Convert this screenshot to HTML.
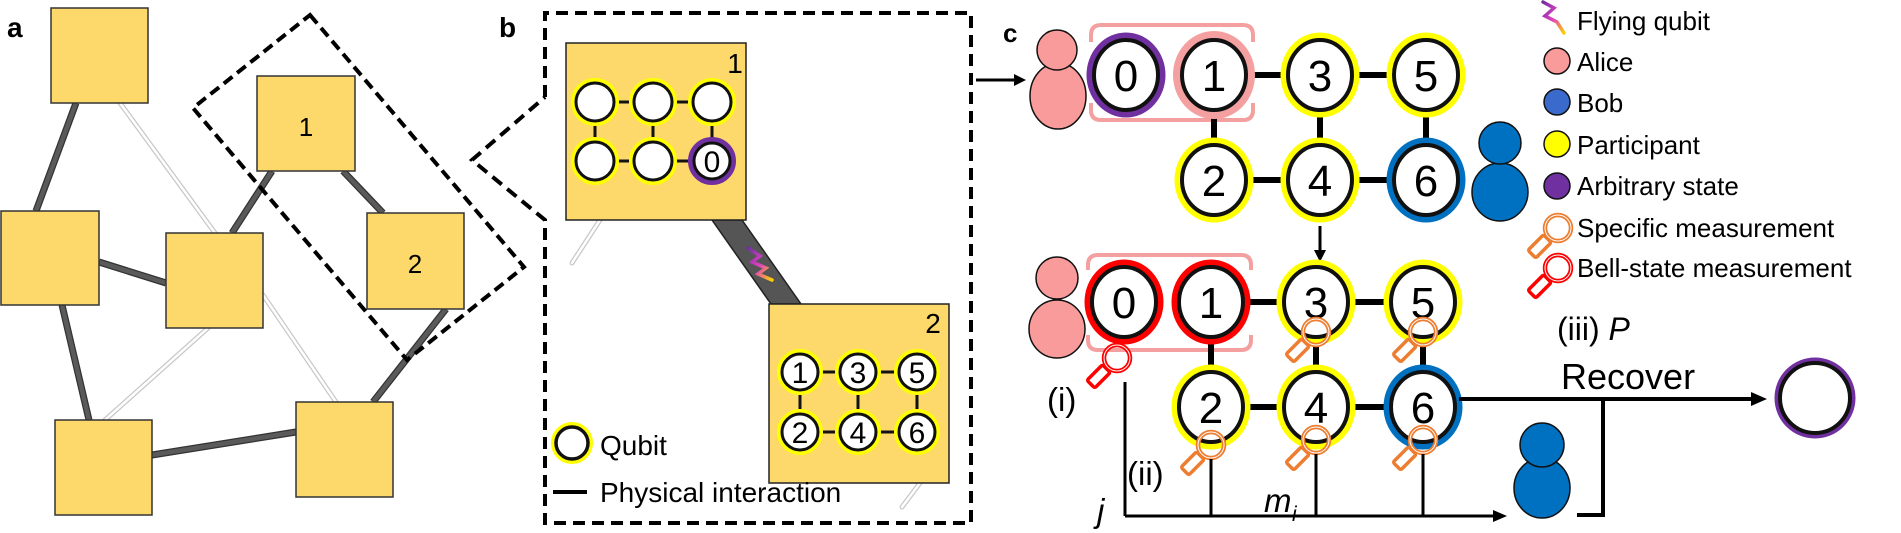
<!DOCTYPE html>
<html><head><meta charset="utf-8"><style>
html,body{margin:0;padding:0;background:#fff;}
svg{display:block;font-family:"Liberation Sans",Arial,sans-serif;}
</style></head><body>
<svg width="1901" height="533" viewBox="0 0 1901 533" xmlns="http://www.w3.org/2000/svg">
<defs>
<linearGradient id="fq" x1="0" y1="0" x2="1" y2="1"><stop offset="0" stop-color="#7030a0"/><stop offset="0.5" stop-color="#e040c0"/><stop offset="1" stop-color="#ffd000"/></linearGradient>
<g id="magO"><rect x="-5.5" y="15" width="11" height="22" rx="2" fill="none" stroke="#ED7D31" stroke-width="3.5" transform="rotate(45)"/><circle r="13" fill="none" stroke="#ED7D31" stroke-width="4.5"/><circle r="13" fill="none" stroke="#fff" stroke-width="1"/></g>
<g id="magR"><rect x="-5.5" y="15" width="11" height="22" rx="2" fill="none" stroke="#FF0000" stroke-width="3.5" transform="rotate(45)"/><circle r="13" fill="none" stroke="#FF0000" stroke-width="4.5"/><circle r="13" fill="none" stroke="#fff" stroke-width="1"/></g>
</defs>

<!-- Panel a -->
<text x="7" y="37" font-size="28" font-weight="bold">a</text>
<g stroke-linecap="round">
<g stroke="#c8c8c8" stroke-width="5"><line x1="120" y1="103" x2="215" y2="233"/><line x1="263" y1="295" x2="336" y2="402"/><line x1="208" y1="328" x2="105" y2="420"/><line x1="600" y1="220" x2="572" y2="263"/><line x1="920" y1="483" x2="902" y2="507"/></g>
<g stroke="#fff" stroke-width="2.5"><line x1="120" y1="103" x2="215" y2="233"/><line x1="263" y1="295" x2="336" y2="402"/><line x1="208" y1="328" x2="105" y2="420"/><line x1="600" y1="220" x2="572" y2="263"/><line x1="920" y1="483" x2="902" y2="507"/></g>
<g stroke="#333" stroke-width="7" stroke-linecap="butt"><line x1="76" y1="103" x2="36" y2="211"/><line x1="99" y1="262" x2="166" y2="283"/><line x1="62" y1="305" x2="89" y2="420"/><line x1="152" y1="455" x2="296" y2="432"/><line x1="232" y1="233" x2="272" y2="171"/><line x1="343" y1="171" x2="383" y2="213"/><line x1="446" y1="309" x2="373" y2="402"/></g>
<g stroke="#5a5a5a" stroke-width="4.5" stroke-linecap="butt"><line x1="76" y1="103" x2="36" y2="211"/><line x1="99" y1="262" x2="166" y2="283"/><line x1="62" y1="305" x2="89" y2="420"/><line x1="152" y1="455" x2="296" y2="432"/><line x1="232" y1="233" x2="272" y2="171"/><line x1="343" y1="171" x2="383" y2="213"/><line x1="446" y1="309" x2="373" y2="402"/></g>
</g>
<g fill="#FDD86A" stroke="#333" stroke-width="1.5">
<rect x="51" y="8" width="97" height="95"/><rect x="1" y="211" width="98" height="94"/><rect x="166" y="233" width="97" height="95"/><rect x="55" y="420" width="97" height="95"/><rect x="296" y="402" width="97" height="95"/><rect x="257" y="76" width="98" height="95"/><rect x="367" y="213" width="97" height="96"/>
</g>
<text x="306" y="136" font-size="26" text-anchor="middle">1</text>
<text x="415" y="273" font-size="26" text-anchor="middle">2</text>
<polygon points="310,15 524,267 407,360 193,108" fill="none" stroke="#000" stroke-width="4" stroke-dasharray="11,6"/>

<!-- Panel b -->
<text x="499" y="37" font-size="28" font-weight="bold">b</text>
<polyline points="545,97 545,13 971,13 971,523 545,523 545,220 472,160 545,97" fill="none" stroke="#000" stroke-width="4" stroke-dasharray="12,7"/>
<polygon points="712,220 742,220 801,304 771,304" fill="#555" stroke="#222" stroke-width="1.5"/>
<path d="M748,248 L760,256 L752,262 L766,268 L758,274 L772,280" fill="none" stroke="url(#fq)" stroke-width="3.5" stroke-linecap="round"/>
<rect x="566" y="43" width="180" height="177" fill="#FDD86A" stroke="#222" stroke-width="1.5"/>
<rect x="769" y="304" width="180" height="179" fill="#FDD86A" stroke="#222" stroke-width="1.5"/>
<text x="735" y="73" font-size="28" text-anchor="middle">1</text>
<text x="933" y="333" font-size="28" text-anchor="middle">2</text>
<g stroke="#111" stroke-width="3">
<line x1="595" y1="102" x2="712" y2="102"/><line x1="595" y1="161" x2="712" y2="161"/><line x1="595" y1="102" x2="595" y2="161"/><line x1="653" y1="102" x2="653" y2="161"/><line x1="712" y1="102" x2="712" y2="161"/>
<line x1="800" y1="372" x2="917" y2="372"/><line x1="800" y1="432" x2="917" y2="432"/><line x1="800" y1="372" x2="800" y2="432"/><line x1="858" y1="372" x2="858" y2="432"/><line x1="917" y1="372" x2="917" y2="432"/>
</g>
<g fill="#fff" stroke="#111" stroke-width="3">
<circle cx="595" cy="102" r="20" stroke="#ff0" stroke-width="8"/><circle cx="653" cy="102" r="20" stroke="#ff0" stroke-width="8"/><circle cx="712" cy="102" r="20" stroke="#ff0" stroke-width="8"/><circle cx="595" cy="161" r="20" stroke="#ff0" stroke-width="8"/><circle cx="653" cy="161" r="20" stroke="#ff0" stroke-width="8"/><circle cx="712" cy="161" r="20" stroke="#7030a0" stroke-width="8"/>
<circle cx="800" cy="372" r="19" stroke="#ff0" stroke-width="8"/><circle cx="858" cy="372" r="19" stroke="#ff0" stroke-width="8"/><circle cx="917" cy="372" r="19" stroke="#ff0" stroke-width="8"/><circle cx="800" cy="432" r="19" stroke="#ff0" stroke-width="8"/><circle cx="858" cy="432" r="19" stroke="#ff0" stroke-width="8"/><circle cx="917" cy="432" r="19" stroke="#ff0" stroke-width="8"/>
<circle cx="595" cy="102" r="19"/><circle cx="653" cy="102" r="19"/><circle cx="712" cy="102" r="19"/><circle cx="595" cy="161" r="19"/><circle cx="653" cy="161" r="19"/><circle cx="712" cy="161" r="18"/>
<circle cx="800" cy="372" r="18"/><circle cx="858" cy="372" r="18"/><circle cx="917" cy="372" r="18"/><circle cx="800" cy="432" r="18"/><circle cx="858" cy="432" r="18"/><circle cx="917" cy="432" r="18"/>
</g>
<g font-size="30" text-anchor="middle">
<text x="712" y="172">0</text>
<text x="800" y="383">1</text><text x="858" y="383">3</text><text x="917" y="383">5</text><text x="800" y="443">2</text><text x="858" y="443">4</text><text x="917" y="443">6</text>
</g>
<circle cx="572" cy="443" r="17" fill="#fff" stroke="#ff0" stroke-width="8"/><circle cx="572" cy="443" r="16" fill="#fff" stroke="#111" stroke-width="3.5"/>
<text x="600" y="455" font-size="28">Qubit</text>
<line x1="553" y1="492" x2="587" y2="492" stroke="#000" stroke-width="4"/>
<text x="600" y="502" font-size="28">Physical interaction</text>

<!-- Panel c -->
<text x="1003" y="42" font-size="26" font-weight="bold">c</text>
<line x1="976" y1="80" x2="1016" y2="80" stroke="#000" stroke-width="3"/><polygon points="1026,80 1014,74 1014,86"/>
<ellipse cx="1058" cy="96" rx="28" ry="33" fill="#F99B9B" stroke="#111" stroke-width="1.5"/>
<circle cx="1057" cy="50" r="20" fill="#F99B9B" stroke="#111" stroke-width="1.5"/>
<path d="M1091,42 V35 Q1091,25 1101,25 H1243 Q1253,25 1253,35 V42 M1091,103 V110 Q1091,120 1101,120 H1243 Q1253,120 1253,110 V103" fill="none" stroke="#F4A0A0" stroke-width="4"/>
<g stroke="#000" stroke-width="6">
<line x1="1214" y1="75" x2="1426" y2="75"/><line x1="1214" y1="180" x2="1426" y2="180"/><line x1="1214" y1="75" x2="1214" y2="180"/><line x1="1320" y1="75" x2="1320" y2="180"/><line x1="1426" y1="75" x2="1426" y2="180"/>
</g>
<g fill="#fff" stroke-width="9">
<ellipse cx="1126" cy="75" rx="35" ry="38" stroke="#7030a0"/>
<ellipse cx="1214" cy="75" rx="36" ry="39" stroke="#F4A0A0" stroke-width="10"/>
<ellipse cx="1320" cy="75" rx="35" ry="38" stroke="#ff0"/>
<ellipse cx="1426" cy="75" rx="35" ry="38" stroke="#ff0"/>
<ellipse cx="1214" cy="180" rx="35" ry="38" stroke="#ff0"/>
<ellipse cx="1320" cy="180" rx="35" ry="38" stroke="#ff0"/>
<ellipse cx="1426" cy="180" rx="35" ry="38" stroke="#0070C0"/>
</g>
<g fill="#fff" stroke="#111" stroke-width="4">
<ellipse cx="1126" cy="75" rx="32" ry="35"/><ellipse cx="1214" cy="75" rx="32" ry="35"/><ellipse cx="1320" cy="75" rx="32" ry="35"/><ellipse cx="1426" cy="75" rx="32" ry="35"/><ellipse cx="1214" cy="180" rx="32" ry="35"/><ellipse cx="1320" cy="180" rx="32" ry="35"/><ellipse cx="1426" cy="180" rx="32" ry="35"/>
</g>
<g font-size="44" text-anchor="middle">
<text x="1126" y="91">0</text><text x="1214" y="91">1</text><text x="1320" y="91">3</text><text x="1426" y="91">5</text><text x="1214" y="196">2</text><text x="1320" y="196">4</text><text x="1426" y="196">6</text>
</g>
<ellipse cx="1500" cy="192" rx="28" ry="29" fill="#0070C0" stroke="#111" stroke-width="1.5"/>
<circle cx="1500" cy="143" r="21" fill="#0070C0" stroke="#111" stroke-width="1.5"/>
<line x1="1320" y1="226" x2="1320" y2="252" stroke="#000" stroke-width="3"/><polygon points="1320,262 1314,250 1326,250"/>

<!-- bottom -->
<ellipse cx="1057" cy="329" rx="28" ry="29" fill="#F99B9B" stroke="#111" stroke-width="1.5"/>
<circle cx="1057" cy="278" r="21" fill="#F99B9B" stroke="#111" stroke-width="1.5"/>
<path d="M1088,270 V265 Q1088,255 1098,255 H1241 Q1251,255 1251,265 V270 M1088,335 V340 Q1088,350 1098,350 H1241 Q1251,350 1251,340 V335" fill="none" stroke="#F4A0A0" stroke-width="4"/>
<g stroke="#000" stroke-width="6">
<line x1="1211" y1="302" x2="1423" y2="302"/><line x1="1211" y1="407" x2="1423" y2="407"/><line x1="1211" y1="302" x2="1211" y2="407"/><line x1="1316" y1="302" x2="1316" y2="407"/><line x1="1423" y1="302" x2="1423" y2="407"/>
</g>
<g fill="#fff" stroke-width="9">
<ellipse cx="1124" cy="302" rx="35" ry="38" stroke="#f00"/><ellipse cx="1211" cy="302" rx="35" ry="38" stroke="#f00"/><ellipse cx="1316" cy="302" rx="35" ry="38" stroke="#ff0"/><ellipse cx="1423" cy="302" rx="35" ry="38" stroke="#ff0"/><ellipse cx="1211" cy="407" rx="35" ry="38" stroke="#ff0"/><ellipse cx="1316" cy="407" rx="35" ry="38" stroke="#ff0"/><ellipse cx="1423" cy="407" rx="35" ry="38" stroke="#0070C0"/>
</g>
<g fill="#fff" stroke="#111" stroke-width="4">
<ellipse cx="1124" cy="302" rx="32" ry="35"/><ellipse cx="1211" cy="302" rx="32" ry="35"/><ellipse cx="1316" cy="302" rx="32" ry="35"/><ellipse cx="1423" cy="302" rx="32" ry="35"/><ellipse cx="1211" cy="407" rx="32" ry="35"/><ellipse cx="1316" cy="407" rx="32" ry="35"/><ellipse cx="1423" cy="407" rx="32" ry="35"/>
</g>
<g font-size="44" text-anchor="middle">
<text x="1124" y="318">0</text><text x="1211" y="318">1</text><text x="1316" y="318">3</text><text x="1423" y="318">5</text><text x="1211" y="423">2</text><text x="1316" y="423">4</text><text x="1423" y="423">6</text>
</g>
<use href="#magR" x="1117" y="358"/>
<use href="#magO" x="1316" y="332"/><use href="#magO" x="1423" y="332"/>
<use href="#magO" x="1211" y="445"/><use href="#magO" x="1316" y="440"/><use href="#magO" x="1423" y="440"/>
<g stroke="#000" stroke-width="3">
<line x1="1125" y1="382" x2="1125" y2="516"/><line x1="1211" y1="459" x2="1211" y2="516"/><line x1="1316" y1="454" x2="1316" y2="516"/><line x1="1423" y1="454" x2="1423" y2="516"/>
<line x1="1125" y1="516" x2="1495" y2="516"/>
<line x1="1459" y1="399" x2="1755" y2="399" stroke-width="4"/>
<polyline points="1603,399 1603,515 1577,515" fill="none" stroke-width="4"/>
</g>
<polygon points="1507,516 1493,510 1493,522"/>
<polygon points="1767,399 1751,392 1751,406"/>
<text x="1047" y="411" font-size="33">(i)</text>
<text x="1127" y="485" font-size="33">(ii)</text>
<text x="1097" y="522" font-size="33" font-style="italic">j</text>
<text x="1264" y="512" font-size="33" font-style="italic">m</text><text x="1292" y="521" font-size="21" font-style="italic">i</text>
<text x="1561" y="389" font-size="36">Recover</text>
<circle cx="1815" cy="398" r="37" fill="#fff" stroke="#7030a0" stroke-width="7"/>
<circle cx="1815" cy="398" r="35" fill="#fff" stroke="#111" stroke-width="4"/>
<ellipse cx="1542" cy="488" rx="28" ry="30" fill="#0070C0" stroke="#111" stroke-width="1.5"/>
<circle cx="1542" cy="445" r="22" fill="#0070C0" stroke="#111" stroke-width="1.5"/>

<!-- Legend -->
<path d="M1543,2 L1554,8 L1545,16 L1557,22 L1564,33" fill="none" stroke="url(#fq)" stroke-width="3.5" stroke-linecap="round"/>
<circle cx="1557" cy="61" r="13" fill="#F99B9B" stroke="#111" stroke-width="1.5"/>
<circle cx="1557" cy="102" r="13" fill="#3A6ACB" stroke="#111" stroke-width="1.5"/>
<circle cx="1557" cy="144" r="13" fill="#ff0" stroke="#111" stroke-width="1.5"/>
<circle cx="1557" cy="186" r="13" fill="#7030A0" stroke="#111" stroke-width="1.5"/>
<use href="#magO" x="1558" y="228"/>
<use href="#magR" x="1558" y="268"/>
<g font-size="26">
<text x="1577" y="30">Flying qubit</text>
<text x="1577" y="71">Alice</text>
<text x="1577" y="112">Bob</text>
<text x="1577" y="154">Participant</text>
<text x="1577" y="195">Arbitrary state</text>
<text x="1577" y="237">Specific measurement</text>
<text x="1577" y="277">Bell-state measurement</text>
</g>
<text x="1557" y="340" font-size="32">(iii) <tspan font-style="italic">P</tspan></text>
</svg>
</body></html>
